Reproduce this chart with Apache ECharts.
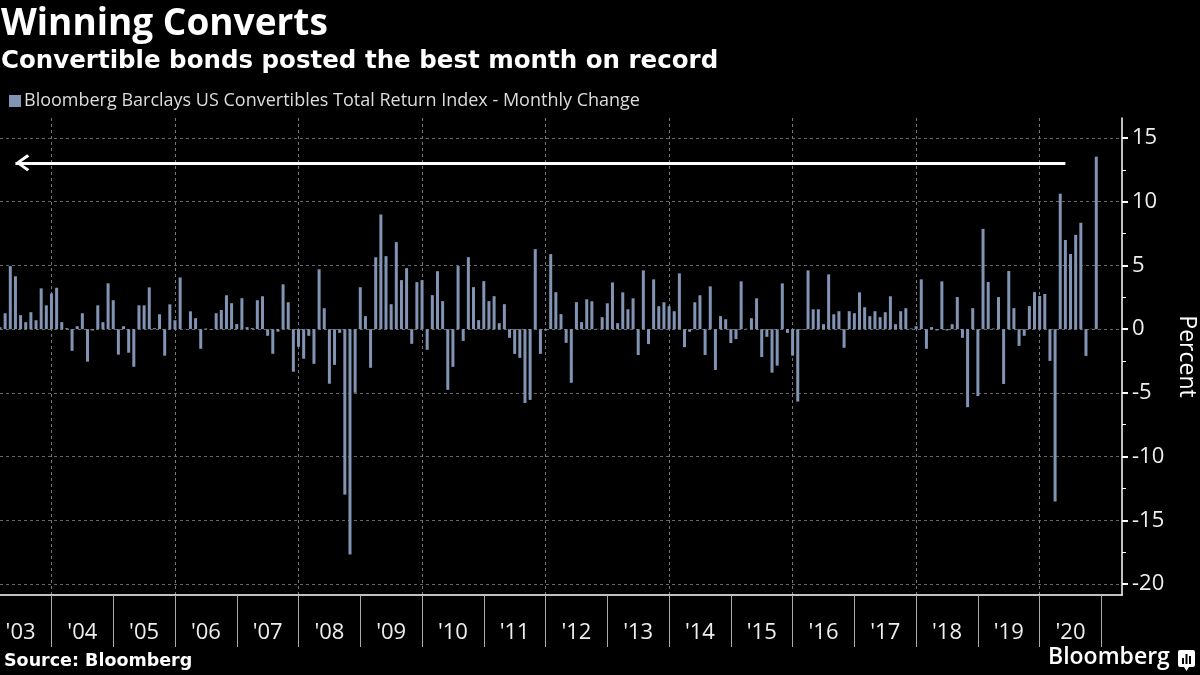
<!DOCTYPE html>
<html>
<head>
<meta charset="utf-8">
<script src="https://cdn.jsdelivr.net/npm/echarts@6/dist/echarts.min.js"></script>
<style>
  html, body { margin: 0; padding: 0; background: #000; }
  #chart { width: 1200px; height: 675px; }
</style>
</head>
<body>
<div id="chart"></div>
<script>
// monthly change, percent (2003 starts in Feb, 2020 ends in Nov)
var v2003 = [0.15, 1.25, 4.95, 4.15, 1.1, 0.55, 1.33, 0.7, 3.2, 1.87, 2.8];
var v2004 = [3.25, 0.55, 0.08, -1.7, 0.23, 1.25, -2.55, -0.1, 1.87, 0.55, 3.6, 2.27];
var v2005 = [-2.0, 0.23, -1.85, -2.95, 1.87, 1.87, 3.28, 0.08, 1.17, -2.08, 1.95, 0.7];
var v2006 = [4.06, 0.02, 1.4, 0.86, -1.54, 0.05, -0.05, 1.25, 1.5, 2.66, 2.04, 0.4];
var v2007 = [2.43, 0.16, 0.08, 2.27, 2.58, -0.52, -1.93, -0.2, 3.52, 2.11, -3.34, -1.38];
var v2008 = [-2.32, -0.52, -2.72, 4.7, 1.64, -4.28, -2.8, -0.29, -12.98, -17.68, -4.99, 3.29];
var v2009 = [1.02, -3.03, 5.64, 9.0, 5.73, 1.96, 6.83, 3.85, 4.79, -1.15, 3.69, 3.85];
var v2010 = [-1.62, 2.67, 4.55, 2.2, -4.76, -2.96, 4.95, -0.92, 5.65, 3.3, 0.71, 3.77];
var v2011 = [2.2, 2.59, 0.47, 1.96, -0.68, -1.94, -2.25, -5.79, -5.55, 6.28, -1.94, -0.1];
var v2012 = [5.89, 2.9, 1.18, -1.07, -4.21, 2.12, 0.55, 2.34, 2.19, 0.03, 0.94, 2.03];
var v2013 = [3.67, 0.47, 2.89, 1.56, 2.42, -2.03, 4.61, -1.17, 3.91, 1.8, 2.11, 1.8];
var v2014 = [1.41, 4.38, -1.41, -0.21, 2.11, 2.66, -2.03, 3.36, -3.2, 1.02, 0.78, -1.09];
var v2015 = [-0.78, 3.75, 0.03, 0.86, 2.42, -2.19, -0.6, -3.41, -2.86, 3.59, -0.29, -2.08];
var v2016 = [-5.68, -0.05, 4.61, 1.56, 1.56, 0.39, 4.3, 1.17, 1.41, -1.46, 1.41, 1.25];
var v2017 = [2.89, 1.72, 1.02, 1.41, 0.94, 1.33, 2.58, 0.39, 1.41, 1.64, 0.05, 0.23];
var v2018 = [3.91, -1.54, 0.16, -0.1, 3.75, -0.1, 0.39, 2.52, -0.68, -6.12, 1.65, -5.25];
var v2019 = [7.87, 3.7, 0.05, 2.52, -4.3, 4.57, 1.65, -1.31, -0.52, 1.81, 2.91, 2.6];
var v2020 = [2.76, -2.49, -13.52, 10.63, 7.0, 5.9, 7.4, 8.35, -2.1, 0.03, 13.54];

var years = [2003, 2004, 2005, 2006, 2007, 2008, 2009, 2010, 2011, 2012, 2013, 2014, 2015, 2016, 2017, 2018, 2019, 2020];
var yearValues = [v2003, v2004, v2005, v2006, v2007, v2008, v2009, v2010, v2011, v2012, v2013, v2014, v2015, v2016, v2017, v2018, v2019, v2020];
// empty months the axis runs on to
var padMonths = ['2020-12', '2021-01', '2021-02', '2021-03', '2021-04'];

var yTicks = [-20, -15, -10, -5, 0, 5, 10, 15];
var yMinorTicks = [-17.5, -12.5, -7.5, -2.5, 2.5, 7.5, 12.5];

// arrow annotation
var arrowFrom = '2020-05';
var arrowTo = '2003-05';
var arrowLevel = 13.05;

var seriesName = 'Bloomberg Barclays US Convertibles Total Return Index - Monthly Change';
var font = 'Open Sans';
var boldFont = 'DejaVu Sans';

// build month categories
var months = [];
var values = [];
years.forEach(function(y, i) {
  var arr = yearValues[i];
  var m0 = (y === 2003) ? 13 - arr.length : 1;
  arr.forEach(function(v, j) {
    var m = m0 + j;
    months.push(y + '-' + (m < 10 ? '0' + m : m));
    values.push(v);
  });
});
var categories = months.concat(padMonths);

var isDec = function(value) { return String(value).slice(5) === '12'; };
var isOddDec = function(value) { return isDec(value) && parseInt(String(value).slice(0, 4)) % 2 === 1; };

var chevron = 'path://M8.5,0L8.6,0L8.6,0.1Z M0,25.5L8.5,14L17,25.5L14.8,27.8L8.5,18.5L2.2,27.8Z';

var myChart = echarts.init(document.getElementById('chart'));
myChart.setOption({
  backgroundColor: '#000',
  animation: false,
  title: [{
    text: 'Winning Converts',
    left: 1, top: 6, padding: 0,
    textStyle: { color: '#fff', fontSize: 37, fontWeight: 'bold', fontFamily: font }
  }, {
    text: 'Convertible bonds posted the best month on record',
    left: 1, top: 49, padding: 0,
    textStyle: { color: '#fff', fontSize: 24.5, fontWeight: 'bold', fontFamily: boldFont }
  }, {
    text: 'Source: Bloomberg',
    left: 4, top: 652, padding: 0,
    textStyle: { color: '#fff', fontSize: 17.5, fontWeight: 'bold', fontFamily: boldFont }
  }],
  legend: {
    data: [seriesName],
    left: 9, top: 92, padding: 0,
    icon: 'rect', itemWidth: 12, itemHeight: 12,
    selectedMode: false,
    textStyle: { color: '#ddd', fontSize: 18, fontFamily: font, padding: [0, 0, 0, -2] }
  },
  grid: {
    left: 0,
    right: 78,
    top: 118,
    bottom: 80,
    outerBoundsMode: 'none'
  },
  xAxis: {
    type: 'category',
    data: categories,
    boundaryGap: false,
    axisLine: { show: true, onZero: false, lineStyle: { color: '#fff', width: 1.5 } },
    axisTick: {
      show: true,
      length: 52,
      interval: function(index, value) { return isDec(value); },
      lineStyle: { color: '#aaa', width: 1 }
    },
    axisLabel: {
      interval: function(index, value) { return String(value).slice(5) === '06'; },
      formatter: function(value) { return "'" + value.slice(2, 4); },
      color: '#eee', fontSize: 22, fontFamily: font, margin: 27
    },
    splitLine: {
      show: true,
      interval: function(index, value) { return isOddDec(value); },
      lineStyle: { color: '#777', type: [3, 3], width: 1 }
    }
  },
  yAxis: [{
    type: 'value',
    position: 'right',
    min: -20.86,
    max: 16.57,
    name: 'Percent',
    nameLocation: 'middle',
    nameRotate: -90,
    nameGap: 52,
    nameTextStyle: { color: '#fff', fontSize: 23, fontFamily: font },
    axisLine: { show: true, lineStyle: { color: '#fff', width: 1.5 } },
    axisTick: { show: true, customValues: yTicks, length: 6, lineStyle: { color: '#fff', width: 2 } },
    axisLabel: { customValues: yTicks, color: '#eee', fontSize: 22, fontFamily: font, margin: 10 },
    splitLine: { show: true, lineStyle: { color: '#666', type: [3, 3], width: 1 } }
  }, {
    type: 'value',
    position: 'right',
    min: -20.86,
    max: 16.57,
    axisLine: { show: false },
    axisTick: { show: true, customValues: yMinorTicks, length: 4, lineStyle: { color: '#fff', width: 1 } },
    axisLabel: { show: false },
    splitLine: { show: false }
  }],
  series: [{
    name: seriesName,
    type: 'bar',
    data: values,
    barWidth: 3,
    z: 2,
    itemStyle: { color: '#8294b4' },
    emphasis: { disabled: true },
    markLine: {
      silent: true,
      symbol: ['none', chevron],
      symbolSize: [17, 28],
      label: { show: false },
      lineStyle: { color: '#fff', width: 3, type: 'solid' },
      data: [[{ coord: [arrowFrom, arrowLevel] }, { coord: [arrowTo, arrowLevel] }]]
    }
  }],
  graphic: [{
    type: 'text',
    left: 1048, top: 646,
    style: { text: 'Bloomberg', fill: '#fff', font: '600 23px "Open Sans"' }
  }, {
    type: 'group',
    left: 1178, top: 650,
    children: [
      { type: 'rect', shape: { x: 0, y: 0, width: 17, height: 17, r: 2 }, style: { fill: '#fff' } },
      { type: 'polygon', shape: { points: [[6, 17], [11, 17], [8.5, 21]] }, style: { fill: '#fff' } },
      { type: 'rect', shape: { x: 4, y: 8, width: 2, height: 6 }, style: { fill: '#000' } },
      { type: 'rect', shape: { x: 7.5, y: 4, width: 2, height: 10 }, style: { fill: '#000' } },
      { type: 'rect', shape: { x: 11, y: 6, width: 2, height: 8 }, style: { fill: '#000' } }
    ]
  }]
});
</script>
</body>
</html>
